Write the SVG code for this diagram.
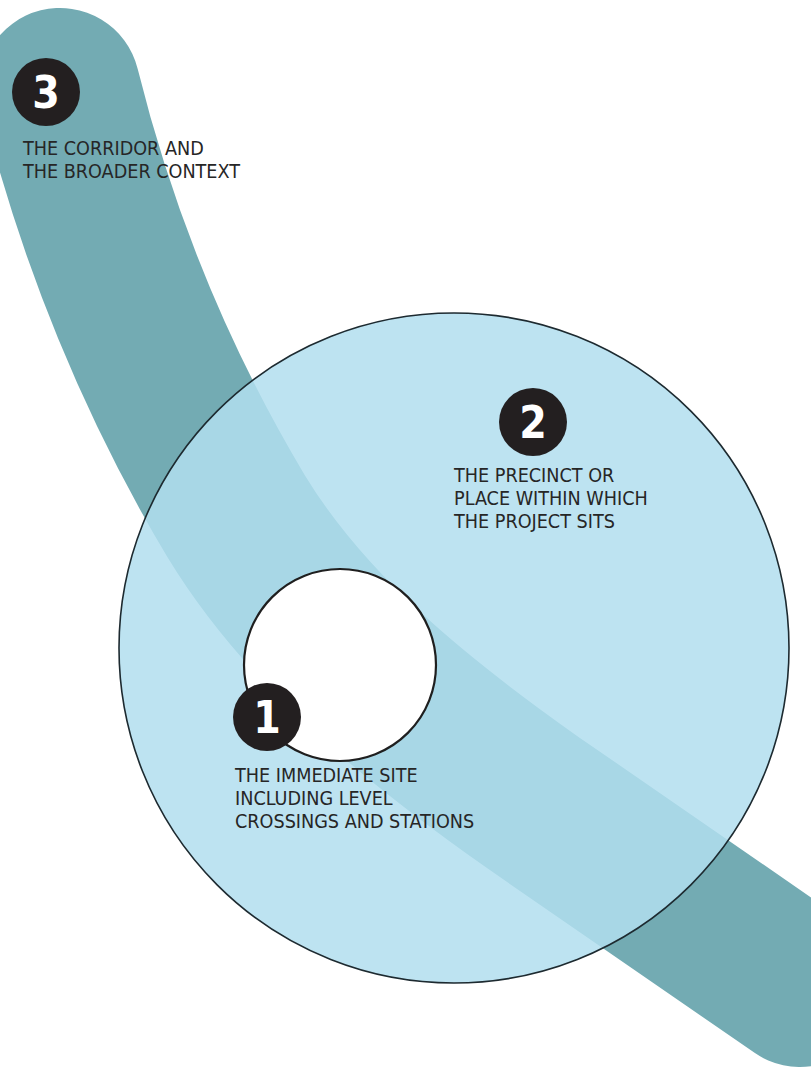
<svg xmlns="http://www.w3.org/2000/svg" width="811" height="1074" viewBox="0 0 811 1074">
  <style>
    .lbl { font-family: "DejaVu Sans Condensed", "DejaVu Sans", sans-serif; font-stretch: condensed; font-size: 19.6px; fill: #262626; }
    .num { font-family: "DejaVu Sans Condensed", "DejaVu Sans", sans-serif; font-stretch: condensed; font-weight: bold; font-size: 44px; fill: #ffffff; text-anchor: middle; }
    .badge { fill: #231f20; }
  </style>
  <rect width="811" height="1074" fill="#ffffff"/>
  <g id="corridor">
    <path d="M60,88 C97,237 157,384 236,516 C307,633 420,723 532,802 L800,987" fill="none" stroke="#73abb3" stroke-width="160" stroke-linecap="round"/>
  </g>
  <g id="precinct">
    <circle cx="454" cy="648" r="335" fill="#b1deef" fill-opacity="0.85" stroke="#1d2a30" stroke-width="1.6"/>
  </g>
  <g id="site">
    <circle cx="340" cy="665" r="96" fill="#ffffff" stroke="#1f1f1f" stroke-width="2.2"/>
  </g>
  <g id="label-3">
    <circle class="badge" cx="46" cy="92" r="34"/>
    <text class="num" x="46" y="108">3</text>
    <text class="lbl" x="23" y="155">THE CORRIDOR AND</text>
    <text class="lbl" x="23" y="178">THE BROADER CONTEXT</text>
  </g>
  <g id="label-2">
    <circle class="badge" cx="533" cy="422" r="34"/>
    <text class="num" x="533" y="438">2</text>
    <text class="lbl" x="454" y="482">THE PRECINCT OR</text>
    <text class="lbl" x="454" y="505">PLACE WITHIN WHICH</text>
    <text class="lbl" x="454" y="528">THE PROJECT SITS</text>
  </g>
  <g id="label-1">
    <circle class="badge" cx="267" cy="717" r="34"/>
    <text class="num" x="267" y="733">1</text>
    <text class="lbl" x="235" y="782">THE IMMEDIATE SITE</text>
    <text class="lbl" x="235" y="805">INCLUDING LEVEL</text>
    <text class="lbl" x="235" y="828">CROSSINGS AND STATIONS</text>
  </g>
</svg>
